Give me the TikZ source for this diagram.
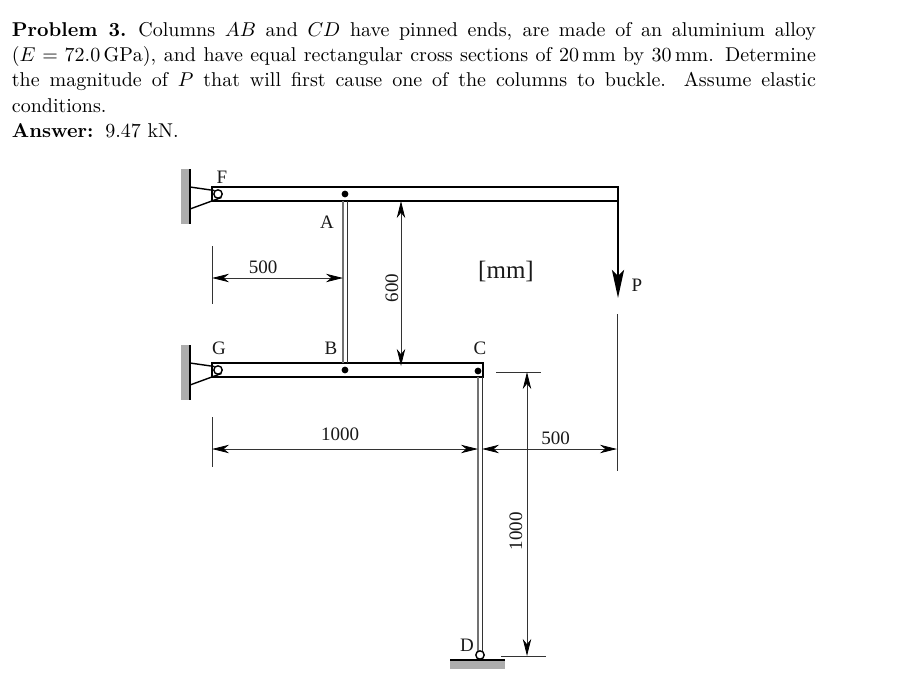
\documentclass[tikz,border=0pt]{standalone}
\usepackage{fontspec}
\newfontfamily\figfont{Liberation Serif}
\usetikzlibrary{arrows.meta}
\tikzset{
  dimline/.style={draw=black!80,line width=0.4pt,{Stealth[length=8.5pt,width=4.2pt,inset=2.6pt,color=black]}-{Stealth[length=8.5pt,width=4.2pt,inset=2.6pt,color=black]}},
  extline/.style={draw=black!80,line width=0.4pt},
  beam/.style={draw=black,line width=0.6pt,fill=white},
  lab/.style={font=\figfont\fontsize{9.5}{11}\selectfont,inner sep=0pt,text=black!90},
  wallfill/.style={fill=black!32,draw=none},
  pin/.style={circle,draw=black,fill=white,line width=0.7pt,minimum size=4.2pt,inner sep=0pt},
  hinge/.style={circle,fill=black,minimum size=3.4pt,inner sep=0pt}
}
\begin{document}
\begin{tikzpicture}[x=0.5pt,y=-0.5pt]
\useasboundingbox (0,0) rectangle (900,686); % page size
\def\xl{212} %left end of the beams
\def\xa{345} %axis of column AB
\def\xc{480} %axis of column CD
\def\xp{618} %right end of the upper beam

\node [anchor=north west,inner sep=0pt,text width=402pt,align=justify,
       font=\fontsize{10}{12.6}\selectfont] (problem) at (11.5,22)
{\textbf{Problem 3.}\hspace{6pt}Columns $AB$ and $CD$ have pinned ends, are made of an aluminium alloy\linebreak
($E=72.0\,\mathrm{GPa}$), and have equal rectangular cross sections of 20\,mm by 30\,mm. Determine\linebreak
the magnitude of $P$ that will first cause one of the columns to buckle.\hspace{9pt}Assume elastic\linebreak
conditions.\\
\textbf{Answer:}\hspace{1.5pt} 9.47 kN.};

% beams
\draw [beam] (\xl,187) rectangle (\xp,201);
\draw [beam] (\xl,363) rectangle (483,377);

% walls and brackets
\foreach \y/\nm in {187/F,363/G}
{
\fill [wallfill] (181,\y-18) rectangle (190,\y+37);
\draw [line width=1pt] (190,\y-18) -- (190,\y+37);
\node [pin] (pin\nm) at (218,\y+7) {};
\draw [line width=0.7pt] (190,\y) -- (pin\nm.north west);
\draw [line width=0.7pt] (190,\y+22) -- (pin\nm.south east);
}

% columns
\coordinate (A) at (\xa,201);
\coordinate (B) at (\xa,363);
\coordinate (C) at (\xc,377);
\coordinate (D) at (\xc,652);
\draw [draw=black!55,line width=0.8pt] ([xshift=-1pt]A) -- ([xshift=-1pt]B);
\draw [draw=black!80,line width=0.5pt] ([xshift=1pt]A) -- ([xshift=1pt]B);
\draw [draw=black!55,line width=0.8pt] ([xshift=-1pt]C) -- ([xshift=-1pt]D);
\draw [draw=black!80,line width=0.5pt] ([xshift=1pt]C) -- ([xshift=1pt]D);

% pins
\node [hinge] (pinA) at (\xa,194) {};
\node [hinge] (pinB) at (\xa,370) {};
\node [hinge] (pinC) at (478,371) {};
\node [pin] (pinD) at (\xc,655) {};

% ground
\fill [wallfill] (450,660) rectangle (505,669);
\draw [line width=1pt] (450,660) -- (505,660);

% load
\coordinate (loadtop) at (\xp,201);
\coordinate (loadend) at (\xp,298);
\draw [line width=1.4pt,-{Stealth[length=14pt,width=6pt,inset=3pt]}] (loadtop) -- (loadend);

% dimensions
\coordinate (e1) at (\xl,246);
\coordinate (e2) at (\xl,304);
\coordinate (e3) at (\xl,417);
\coordinate (e4) at (\xl,467);
\coordinate (e5) at (617,314);
\coordinate (e6) at (617,471);
\coordinate (e7) at (496,372);
\coordinate (e8) at (541,372);
\coordinate (e9) at (501,656);
\coordinate (e10) at (546,656);
\draw [extline] (e1) -- (e2);
\draw [extline] (e3) -- (e4);
\draw [extline] (e5) -- (e6);
\draw [extline] (e7) -- (e8);
\draw [extline] (e9) -- (e10);

\draw [dimline] (\xl,278) -- (343,278);
\draw [dimline] (401,201) -- (401,366);
\draw [dimline] (\xl,449) -- (478,449);
\draw [dimline] (482,449) -- (617,449);
\draw [dimline] (527,372) -- (527,656);

% labels
\node [lab] (lF) at (222,177) {F};
\node [lab] (lA) at (327,222) {A};
\node [lab] (lG) at (219,348) {G};
\node [lab] (lB) at (331,348) {B};
\node [lab] (lC) at (480,348) {C};
\node [lab] (lD) at (467,645) {D};
\node [lab] (lP) at (637,285) {P};
\node [lab] (d500a) at (263,267) {500};
\node [lab,rotate=90] (d600) at (392,288) {600};
\node [lab] (d1000a) at (340,434) {1000};
\node [lab] (d500b) at (555.5,438) {500};
\node [lab,rotate=90] (d1000b) at (516,531) {1000};
\node [lab,font=\figfont\fontsize{12.5}{14}\selectfont] (unit) at (506,271) {[mm]};
\end{tikzpicture}
\end{document}
